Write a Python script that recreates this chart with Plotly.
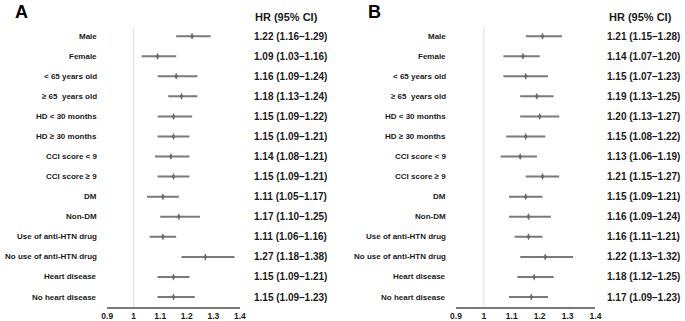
import plotly.graph_objects as go

categories = ["Male", "Female", "< 65 years old", "\u2265 65  years old", "HD < 30 months",
              "HD \u2265 30 months", "CCI score < 9", "CCI score \u2265 9", "DM", "Non-DM",
              "Use of anti-HTN drug", "No use of anti-HTN drug", "Heart disease", "No heart disease"]

hr_a = [1.22, 1.09, 1.16, 1.18, 1.15, 1.15, 1.14, 1.15, 1.11, 1.17, 1.11, 1.27, 1.15, 1.15]
lo_a = [1.16, 1.03, 1.09, 1.13, 1.09, 1.09, 1.08, 1.09, 1.05, 1.10, 1.06, 1.18, 1.09, 1.09]
hi_a = [1.29, 1.16, 1.24, 1.24, 1.22, 1.21, 1.21, 1.21, 1.17, 1.25, 1.16, 1.38, 1.21, 1.23]

hr_b = [1.21, 1.14, 1.15, 1.19, 1.20, 1.15, 1.13, 1.21, 1.15, 1.16, 1.16, 1.22, 1.18, 1.17]
lo_b = [1.15, 1.07, 1.07, 1.13, 1.13, 1.08, 1.06, 1.15, 1.09, 1.09, 1.11, 1.13, 1.12, 1.09]
hi_b = [1.28, 1.20, 1.23, 1.25, 1.27, 1.22, 1.19, 1.27, 1.21, 1.24, 1.21, 1.32, 1.25, 1.23]

tick_vals = [0.9, 1.0, 1.1, 1.2, 1.3, 1.4]
tick_text = ["0.9", "1", "1.1", "1.2", "1.3", "1.4"]
panel_letters = ["A", "B"]
header = "HR (95% CI)"

W, H = 685, 321
FONT = "Liberation Sans, Arial, sans-serif"
TXT = "#1a1a1a"
GRAY = "#7a7a7a"

fig = go.Figure()

panels = [
    dict(hr=hr_a, lo=lo_a, hi=hi_a, xa="x", ya="y", dom=(103, 238), lab_x=95, txt_x=250, head_x=286, let_x=7),
    dict(hr=hr_b, lo=lo_b, hi=hi_b, xa="x2", ya="y2", dom=(458, 600), lab_x=450, txt_x=610, head_x=646, let_x=366),
]

ypos = list(range(len(categories)))
annotations = []
shapes = []
for p, letter in zip(panels, panel_letters):
    fig.add_trace(go.Scatter(
        x=p["hr"], y=ypos, xaxis=p["xa"], yaxis=p["ya"], mode="markers",
        marker=dict(symbol="diamond-tall", size=5, color="#6a6a6a", line=dict(width=0)),
        error_x=dict(type="data", symmetric=False,
                     array=[h - m for h, m in zip(p["hi"], p["hr"])],
                     arrayminus=[m - l for m, l in zip(p["hr"], p["lo"])],
                     thickness=2, width=0, color=GRAY),
        showlegend=False, hoverinfo="skip"))
    yref = p["ya"]
    for i, c in enumerate(categories):
        annotations.append(dict(x=p["lab_x"] / W, xref="paper", xanchor="right", y=i, yref=yref,
                                text=c, showarrow=False, font=dict(family=FONT, size=8, color=TXT, weight="bold")))
        annotations.append(dict(x=p["txt_x"] / W, xref="paper", xanchor="left", y=i, yref=yref,
                                text=f"{p['hr'][i]:.2f} ({p['lo'][i]:.2f}\u2013{p['hi'][i]:.2f})",
                                showarrow=False, font=dict(family=FONT, size=10, color=TXT, weight="bold")))
    annotations.append(dict(x=p["head_x"] / W, xref="paper", xanchor="center", y=1 - 17 / H, yref="paper",
                            yanchor="middle", text=header, showarrow=False,
                            font=dict(family=FONT, size=11, color=TXT, weight="bold")))
    annotations.append(dict(x=p["let_x"] / W, xref="paper", xanchor="left", y=1 - 12 / H, yref="paper",
                            yanchor="middle", text=letter, showarrow=False,
                            font=dict(family=FONT, size=18, color="#000", weight="bold")))
    shapes.append(dict(type="line", xref=p["xa"], yref=p["ya"] + " domain", x0=1, x1=1, y0=0, y1=1,
                       line=dict(color="#dcdcdc", width=1), layer="below"))

ydom = [1 - 308 / H, 1 - 27 / H]
yrange = [13.5, -0.46]

def xaxis_cfg(d):
    return dict(domain=[d[0] / W, d[1] / W], range=[0.9, 1.4], tickvals=tick_vals, ticktext=tick_text,
                showline=True, linecolor=GRAY, linewidth=2, showgrid=False, zeroline=False, ticks="",
                tickfont=dict(family=FONT, size=8.5, color=TXT, weight="bold"), fixedrange=True)

def yaxis_cfg(anchor):
    return dict(domain=ydom, range=yrange, showticklabels=False, showgrid=False, zeroline=False,
                showline=False, ticks="", anchor=anchor, fixedrange=True)

fig.update_layout(
    width=W, height=H, margin=dict(l=0, r=0, t=0, b=0),
    paper_bgcolor="white", plot_bgcolor="white",
    xaxis=dict(**xaxis_cfg(panels[0]["dom"]), anchor="y"),
    xaxis2=dict(**xaxis_cfg(panels[1]["dom"]), anchor="y2"),
    yaxis=yaxis_cfg("x"),
    yaxis2=yaxis_cfg("x2"),
    annotations=annotations, shapes=shapes,
)

fig.write_html("out.html", config={"displayModeBar": False},
               post_script="document.body.style.margin='0';document.body.style.overflow='hidden';")
